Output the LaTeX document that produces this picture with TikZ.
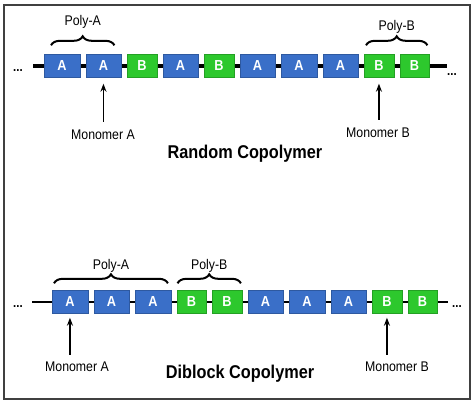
\documentclass[tikz,border=0pt]{standalone}
\usepackage{fontspec}
\setmainfont{Liberation Sans}[FakeStretch=0.88]
\usetikzlibrary{arrows.meta,positioning,decorations.pathreplacing}
\definecolor{monoblue}{RGB}{58,111,200}
\definecolor{monogreen}{RGB}{45,200,45}
\tikzset{
  mono/.style={minimum height=23pt, inner sep=0pt, text=white, font=\fontsize{14.5}{14.5}\selectfont\bfseries},
  monoA/.style={mono, fill=monoblue, draw=monoblue!80!black, minimum width=35.5pt},
  monoB/.style={mono, fill=monogreen, draw=monogreen!80!black, minimum width=29.5pt},
  poly/.style={decorate, decoration={brace, amplitude=9pt}, line width=2pt},
  lbl/.style={font=\fontsize{14}{14}\selectfont, inner sep=1pt},
  title/.style={font=\fontsize{18.5}{18.5}\selectfont\bfseries},
  dots/.style={font=\fontsize{13}{13}\selectfont\bfseries, inner sep=0pt},
  pointer/.style={line width=1.5pt, -{Stealth[length=8pt,width=6pt]}},
}

\begin{document}
\begin{tikzpicture}[x=1pt,y=-1pt]
  \useasboundingbox (0,0) rectangle (474,403);
  \draw[gray!50!black,line width=1.2pt] (4,5) rectangle (470,399);

  \coordinate (rl) at (33,66);
  \coordinate (rr) at (447,66);
  \draw[line width=3.2pt] (rl) -- (rr);
  \coordinate (r0) at (38.4,66);
  \foreach \l [count=\i, remember=\i as \j (initially 0)] in {A,A,B,A,B,A,A,A,B,B}
    \node[mono\l, right=5.6pt of r\j] (r\i) {\l};
  \node[dots] (rdl) at (18,71) {...};
  \node[dots] (rdr) at (452,75) {...};

  \draw[poly] ([xshift=7pt,yshift=9pt]r1.north west) -- ([xshift=-7pt,yshift=9pt]r2.north east)
    node[midway, above=15pt, lbl] (polyA1) {Poly-A};
  \draw[poly] ([xshift=2pt,yshift=9pt]r9.north west) -- ([xshift=-2pt,yshift=9pt]r10.north east)
    node[midway, above=10pt, lbl] (polyB1) {Poly-B};

  \node[lbl] (monA1) at (103,135) {Monomer A};
  \node[lbl] (monB1) at (378,133) {Monomer B};
  \draw[pointer, shorten <=7pt, shorten >=6pt] (r2.south |- monA1.north) -- (r2.south);
  \draw[pointer, shorten <=7pt, shorten >=6pt] (r9.south |- monB1.north) -- (r9.south);
  \node[title] (random) at (245,153.5) {Random Copolymer};

  \coordinate (dl) at (32,302);
  \coordinate (dr) at (448,302);
  \draw[line width=1.5pt] (dl) -- (dr);
  \coordinate (d0) at (46.4,302);
  \foreach \l [count=\i, remember=\i as \j (initially 0)] in {A,A,A,B,B,A,A,A,B,B}
    \node[mono\l, right=5.6pt of d\j] (d\i) {\l};
  \node[dots] (ddl) at (18,307) {...};
  \node[dots] (ddr) at (457,307) {...};

  \draw[poly] ([xshift=2pt,yshift=7pt]d1.north west) -- ([xshift=-3pt,yshift=7pt]d3.north east)
    node[midway, above=9pt, lbl] (polyA2) {Poly-A};
  \draw[poly] ([xshift=1pt,yshift=7pt]d4.north west) -- ([xshift=-1pt,yshift=7pt]d5.north east)
    node[midway, above=9pt, lbl] (polyB2) {Poly-B};

  \node[lbl] (monA2) at (77,367) {Monomer A};
  \node[lbl] (monB2) at (397,367) {Monomer B};
  \draw[pointer, shorten <=6pt, shorten >=4pt] (d1.south |- monA2.north) -- (d1.south);
  \draw[pointer, shorten <=6pt, shorten >=4pt] (d9.south |- monB2.north) -- (d9.south);
  \node[title] (diblock) at (240,373.5) {Diblock Copolymer};
\end{tikzpicture}
\end{document}
